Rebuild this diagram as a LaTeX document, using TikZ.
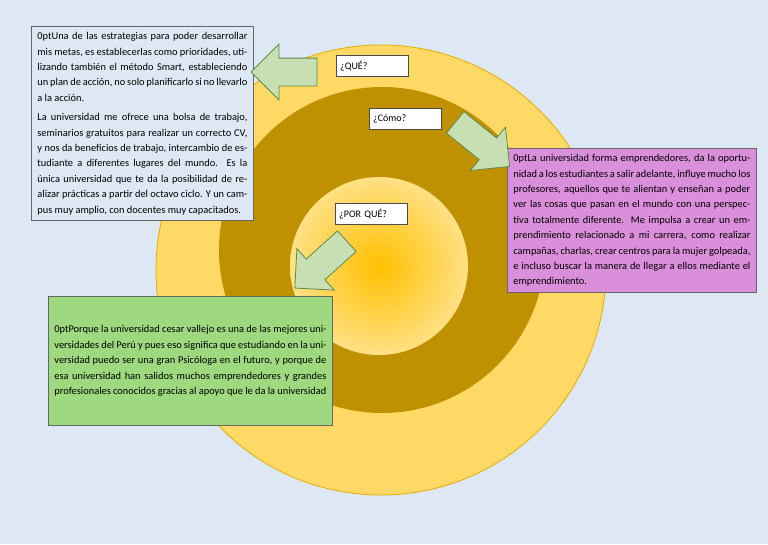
\documentclass[tikz,border=0pt]{standalone}
\usepackage{fontspec}
\setmainfont{Carlito}
\usetikzlibrary{shapes.arrows,positioning}
\definecolor{paper}{HTML}{DEE8F4}
\definecolor{outerring}{HTML}{FFD966}
\definecolor{midring}{HTML}{BF9000}
\definecolor{core}{HTML}{FFC000}
\definecolor{arrowfill}{HTML}{C6E0B4}
\definecolor{arrowline}{HTML}{5E8A4A}
\definecolor{pinkbox}{HTML}{DA8FDA}
\definecolor{greenbox}{HTML}{9ED97F}
\tikzstyle{textbox}  = [draw=black!60, thick, inner sep=6pt, align=justify, anchor=north west, font=\fontsize{10.4}{15.4}\selectfont\hyphenpenalty=10000\exhyphenpenalty=10000]
\tikzstyle{tag}      = [draw=black!70, fill=white, minimum width=72pt, minimum height=21pt, inner sep=3pt, font=\fontsize{10}{11}\selectfont, anchor=north west, text width=64pt]
\tikzstyle{bigarrow} = [single arrow, draw=arrowline, fill=arrowfill, thick, single arrow head extend=14pt, minimum height=70pt, inner sep=13.5pt]

\begin{document}
\begin{tikzpicture}[x=1pt,y=-1pt]
		\fill[paper] (0,0) rectangle (768,544);
		\useasboundingbox (0,0) rectangle (768,544);

		% rings
		\draw[fill=outerring, draw=core!90!black, thick] (381,270) circle (225);
		\fill[midring] (382,250) circle (163);
		\shade[inner color=core, outer color=outerring!80!white] (379,266) circle (89);

		% tags
		\node[tag] (que) at (336,55) {¿QUÉ?};
		\node[tag] (como) at (369,108) {¿Cómo?};
		\node[tag] (porque) at (335,203) {¿POR QUÉ?};

		% boxes
		\node[textbox, fill=paper, text width=210pt] (metas) at (31,26) {Una de las estrategias para poder desarrollar mis metas, es establecerlas como prioridades, utilizando también el método Smart, estableciendo un plan de acción, no solo planificarlo si no llevarlo a la acción.\par\vspace{4pt}
		La universidad me ofrece una bolsa de trabajo, seminarios gratuitos para realizar un correcto CV, y nos da beneficios de trabajo, intercambio de estudiante a diferentes lugares del mundo. Es la única universidad que te da la posibilidad de realizar prácticas a partir del octavo ciclo. Y un campus muy amplio, con docentes muy capacitados.};
		\node[textbox, fill=pinkbox, text width=237pt] (emprende) at (507,148) {La universidad forma emprendedores, da la oportunidad a los estudiantes a salir adelante, influye mucho los profesores, aquellos que te alientan y enseñan a poder ver las cosas que pasan en el mundo con una perspectiva totalmente diferente. Me impulsa a crear un emprendimiento relacionado a mi carrera, como realizar campañas, charlas, crear centros para la mujer golpeada, e incluso buscar la manera de llegar a ellos mediante el emprendimiento.\par\vspace{6pt}};
		\node[textbox, fill=greenbox, text width=272pt, minimum height=129pt, inner ysep=0pt] (vallejo) at (48,296) {Porque la universidad cesar vallejo es una de las mejores universidades del Perú y pues eso significa que estudiando en la universidad puedo ser una gran Psicóloga en el futuro, y porque de esa universidad han salidos muchos emprendedores y grandes profesionales conocidos gracias al apoyo que le da la universidad};

		% arrows
		\node[bigarrow, shape border rotate=180, minimum height=66pt] (a1) at (291,72) {};
		\node[bigarrow, rotate=-39] (a2) at (477,140) {};
		\node[bigarrow, rotate=222] (a3) at (326,260) {};
	\end{tikzpicture}
\end{document}
